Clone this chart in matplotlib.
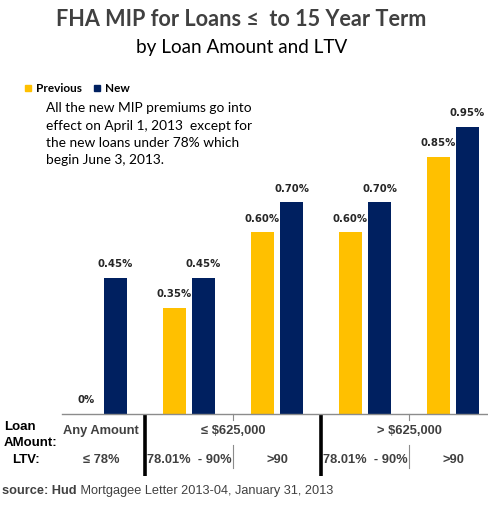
import matplotlib
matplotlib.use("Agg")
import matplotlib.pyplot as plt
import matplotlib.transforms as mtransforms

# ---- data ----
ltv_labels = ["\u2264 78%", "78.01%  - 90%", ">90", "78.01%  - 90%", ">90"]
previous = [0.00, 0.35, 0.60, 0.60, 0.85]
new = [0.45, 0.45, 0.70, 0.70, 0.95]
amount_labels = ["Any Amount", "\u2264 $625,000", "> $625,000"]
amount_spans = [(0, 0), (1, 2), (3, 4)]   # category index ranges
series_names = ["Previous", "New"]
title = "FHA MIP for Loans \u2264  to 15 Year Term"
subtitle = "by Loan Amount and LTV"
note = ("All the new MIP premiums go into\n"
        "effect on April 1, 2013  except for\n"
        "the new loans under 78% which\n"
        "begin June 3, 2013.")
source_bold = "source: Hud"
source_rest = " Mortgagee Letter 2013-04, January 31, 2013"

YELLOW = "#FFC000"
NAVY = "#002060"
GRAY_TXT = "#404040"

W, H = 489, 511
fig = plt.figure(figsize=(W / 100, H / 100), dpi=100)
fig.patch.set_facecolor("white")

def fx(px):
    return px / W

def fy(py):
    return 1 - py / H

# axes placement (pixels)
left_px, right_px, top_px, base_px = 62, 489, 110, 413.5
ax = fig.add_axes([fx(left_px), fy(base_px), fx(right_px - left_px), (base_px - top_px) / H])
grp_px = 88.0
x0 = -(101 - left_px) / grp_px
x1 = x0 + (right_px - left_px) / grp_px
ax.set_xlim(x0, x1)
ax.set_ylim(0, (base_px - top_px) / 302.0)

n = len(previous)
idx = list(range(n))
bw = 0.265
off = 0.165
ax.bar([i - off for i in idx], previous, width=bw, color=YELLOW, zorder=2)
ax.bar([i + off for i in idx], new, width=bw, color=NAVY, zorder=2)

def fmt(v):
    return "0%" if v == 0 else f"{v:.2f}%"

for i in idx:
    for xs, v in ((i - off, previous[i]), (i + off, new[i])):
        ax.annotate(fmt(v), (xs, v), xytext=(0, 6), textcoords="offset points",
                    ha="center", va="bottom", fontsize=7.3, fontweight="bold",
                    color="#262626", family="DejaVu Sans")

for s in ("top", "right", "left"):
    ax.spines[s].set_visible(False)
ax.spines["bottom"].set_color("#8c8c8c")
ax.spines["bottom"].set_linewidth(1.0)
ax.set_yticks([])
ax.set_xticks([])

tr = mtransforms.blended_transform_factory(ax.transData, ax.transAxes)
ah = base_px - top_px
def ay(py):
    return (base_px - py) / ah

# thin gray boundary ticks inside groups
for b in (1.5, 3.5):
    ax.plot([b, b], [0, ay(420)], transform=tr, color="#8c8c8c", lw=0.8, clip_on=False)
    ax.plot([b, b], [ay(445), ay(468)], transform=tr, color="#8c8c8c", lw=0.8, clip_on=False)
# thick black separators between loan amount groups
for b in (0.5, 2.5):
    ax.plot([b, b], [0, ay(476)], transform=tr, color="black", lw=2.6, clip_on=False,
            solid_capstyle="butt")

# table texts
for lab, (a, b) in zip(amount_labels, amount_spans):
    ax.text((a + b) / 2, ay(431), lab, transform=tr, ha="center", va="center",
            fontsize=9.3, fontweight="bold", color=GRAY_TXT, family="Liberation Sans")
for i, lab in enumerate(ltv_labels):
    ax.text(i, ay(460), lab, transform=tr, ha="center", va="center",
            fontsize=9.3, fontweight="bold", color=GRAY_TXT, family="Liberation Sans")

fig.text(fx(4), fy(427), "Loan", ha="left", va="center", fontsize=9.5,
         fontweight="bold", color="black", family="Liberation Sans")
fig.text(fx(4), fy(443), "AMount:", ha="left", va="center", fontsize=9.5,
         fontweight="bold", color="black", family="Liberation Sans")
fig.text(fx(12), fy(460), "LTV:", ha="left", va="center", fontsize=9.5,
         fontweight="bold", color="black", family="Liberation Sans")

# title
fig.text(0.494, fy(20), title, ha="center", va="center", fontsize=15.6,
         fontweight="bold", color=GRAY_TXT, family="Lato")
fig.text(0.494, fy(47), subtitle, ha="center", va="center", fontsize=13.6,
         color="black", family="Lato")

# legend
cols = [YELLOW, NAVY]
leg_x = [25, 94]
for name, c, lx in zip(series_names, cols, leg_x):
    fig.patches.append(plt.Rectangle((fx(lx), fy(91)), fx(6), 6 / H, color=c,
                                     transform=fig.transFigure, figure=fig))
    fig.text(fx(lx + 11), fy(88), name, ha="left", va="center", fontsize=8.5,
             fontweight="bold", color="black", family="Lato")

# note
fig.text(fx(46), fy(102), note, ha="left", va="top", fontsize=9.9,
         color="black", family="Lato", linespacing=1.55)

# source
t = fig.text(fx(2), fy(491), source_bold, ha="left", va="center", fontsize=9.2,
             fontweight="bold", color=GRAY_TXT, family="Liberation Sans")
fig.canvas.draw()
bb = t.get_window_extent()
fig.text(bb.x1 / W, fy(491), source_rest, ha="left", va="center", fontsize=9.2,
         color=GRAY_TXT, family="Liberation Sans")

fig.savefig("out.png", dpi=100, facecolor="white")
